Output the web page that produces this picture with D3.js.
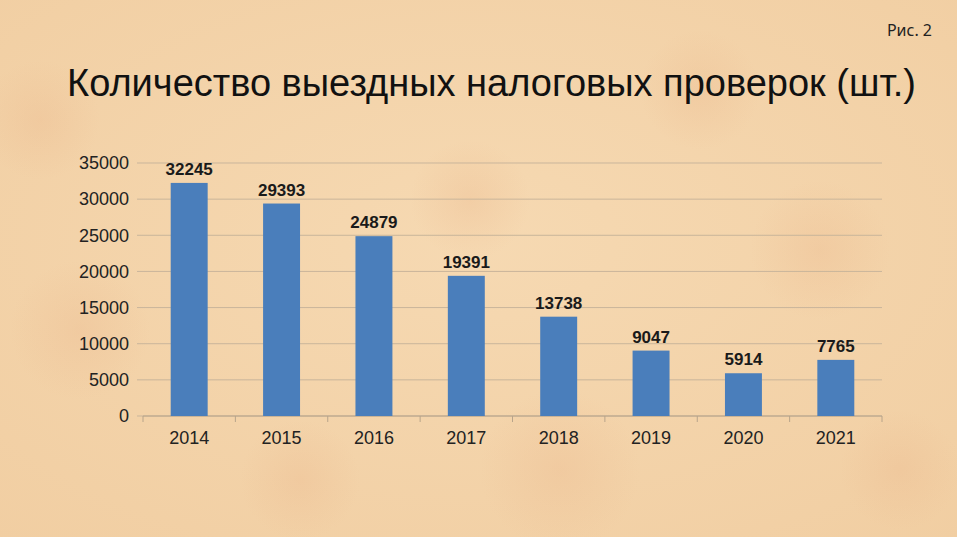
<!DOCTYPE html>
<html><head><meta charset="utf-8">
<script src="https://cdn.jsdelivr.net/npm/d3@7"></script>
<style>html,body{margin:0;padding:0;overflow:hidden;background:#f5d8b0;}</style>
</head><body>
<svg id="c" width="957" height="537"></svg>
<script>
const years = ["2014","2015","2016","2017","2018","2019","2020","2021"];
const values = [32245, 29393, 24879, 19391, 13738, 9047, 5914, 7765];
const yTicks = [0, 5000, 10000, 15000, 20000, 25000, 30000, 35000];
const titleText = "Количество выездных налоговых проверок (шт.)";
const figLabel = "Рис. 2";

const svg = d3.select("#c");
const W = 957, H = 537;
const defs = svg.append("defs");
const bg = defs.append("radialGradient").attr("id","bg").attr("cx","50%").attr("cy","45%").attr("r","75%");
bg.append("stop").attr("offset","0%").attr("stop-color","#f6d9b2");
bg.append("stop").attr("offset","100%").attr("stop-color","#f1cea2");
svg.append("rect").attr("width",W).attr("height",H).attr("fill","url(#bg)");
const blob = defs.append("radialGradient").attr("id","blob");
blob.append("stop").attr("offset","0%").attr("stop-color","#ecbb90").attr("stop-opacity",0.35);
blob.append("stop").attr("offset","100%").attr("stop-color","#ecbb90").attr("stop-opacity",0);
[[80,330,70],[300,480,60],[560,470,80],[820,250,70],[470,200,60],[900,470,60],[40,120,60],[700,90,60]].forEach(b=>{
  svg.append("circle").attr("cx",b[0]).attr("cy",b[1]).attr("r",b[2]).attr("fill","url(#blob)");
});

const m = {left:143, right:882, top:163, bottom:416};
const x = d3.scaleBand().domain(years).range([m.left, m.right]).paddingInner(0.6).paddingOuter(0.3);
const y = d3.scaleLinear().domain([0,35000]).range([m.bottom, m.top]);

// gridlines
svg.append("g").selectAll("line").data(yTicks).join("line")
  .attr("x1", m.left-6).attr("x2", m.right)
  .attr("y1", d=>y(d)).attr("y2", d=>y(d))
  .attr("stroke", "#c9b59b").attr("stroke-width",1);

// y labels
svg.append("g").selectAll("text").data(yTicks).join("text")
  .attr("x", m.left-14).attr("y", d=>y(d)).attr("dy","0.35em")
  .attr("text-anchor","end").attr("font-family","Liberation Sans, Arial, sans-serif")
  .attr("font-size",18).attr("fill","#222").text(d=>d);

// x axis ticks at category boundaries
const step = x.step();
const bounds = d3.range(years.length+1).map(i=>m.left + i*step);
svg.append("g").selectAll("line").data(bounds).join("line")
  .attr("x1",d=>d).attr("x2",d=>d).attr("y1",m.bottom).attr("y2",m.bottom+6)
  .attr("stroke","#b8a48a");
svg.append("line").attr("x1",m.left).attr("x2",m.right).attr("y1",m.bottom).attr("y2",m.bottom)
  .attr("stroke","#b8a48a");

// bars
svg.append("g").selectAll("rect").data(values).join("rect")
  .attr("x",(d,i)=>x(years[i])).attr("width",x.bandwidth())
  .attr("y",d=>y(d)).attr("height",d=>y(0)-y(d))
  .attr("fill","#4a7ebb");

// value labels
svg.append("g").selectAll("text").data(values).join("text")
  .attr("x",(d,i)=>x(years[i])+x.bandwidth()/2).attr("y",d=>y(d)-8)
  .attr("text-anchor","middle").attr("font-family","Liberation Sans, Arial, sans-serif")
  .attr("font-weight","bold").attr("font-size",17).attr("fill","#1a1a1a").text(d=>d);

// x labels
svg.append("g").selectAll("text").data(years).join("text")
  .attr("x",d=>x(d)+x.bandwidth()/2).attr("y",m.bottom+28)
  .attr("text-anchor","middle").attr("font-family","Liberation Sans, Arial, sans-serif")
  .attr("font-size",18).attr("fill","#222").text(d=>d);

// title
svg.append("text").attr("x",67).attr("y",96)
  .attr("font-family","Liberation Sans, Arial, sans-serif").attr("font-size",38)
  .attr("fill","#111").text(titleText);
svg.append("text").attr("x",932).attr("y",36).attr("text-anchor","end")
  .attr("font-family","Noto Sans, sans-serif").attr("font-size",16)
  .attr("fill","#222").text(figLabel);
</script>
</body></html>
